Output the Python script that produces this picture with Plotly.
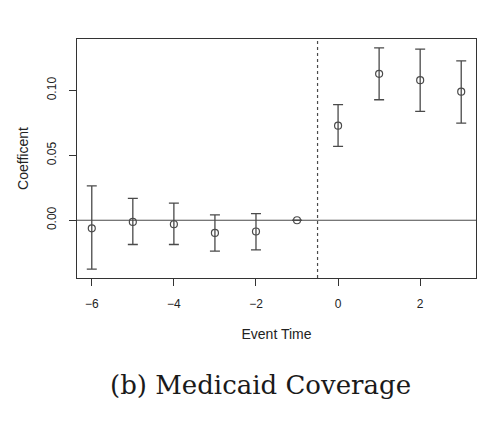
import plotly.graph_objects as go

# event-study coefficients
event_time = [-6, -5, -4, -3, -2, -1, 0, 1, 2, 3]
coef = [-0.0062, -0.0013, -0.0031, -0.0098, -0.0087, 0.0, 0.0728, 0.1128, 0.1079, 0.0990]
ci_hi = [0.0264, 0.0169, 0.0131, 0.0041, 0.0051, 0.0, 0.0890, 0.1328, 0.1318, 0.1228]
ci_lo = [-0.0377, -0.0187, -0.0187, -0.0238, -0.0228, 0.0, 0.0569, 0.0928, 0.0838, 0.0748]
x_ticks = [-6, -4, -2, 0, 2]
y_ticks = [0.0, 0.05, 0.10]
y_tick_text = ["0.00", "0.05", "0.10"]

INK = "#4a4a4a"
SANS = "Liberation Sans, Arial, sans-serif"

err_plus = [h - c for h, c in zip(ci_hi, coef)]
err_minus = [c - l for c, l in zip(coef, ci_lo)]

fig = go.Figure(
    go.Scatter(
        x=event_time,
        y=coef,
        mode="markers",
        marker=dict(symbol="circle-open", size=7, color=INK, line=dict(width=1.2, color=INK)),
        error_y=dict(
            type="data",
            symmetric=False,
            array=err_plus,
            arrayminus=err_minus,
            color=INK,
            thickness=1.3,
            width=5,
        ),
        showlegend=False,
    )
)

# reference lines: y = 0 and the treatment boundary
fig.add_hline(y=0, line=dict(color=INK, width=1.2))
fig.add_vline(x=-0.5, line=dict(color=INK, width=1.2, dash="dot"))

fig.add_annotation(
    text="(b) Medicaid Coverage",
    xref="paper",
    yref="paper",
    x=0.459,
    y=-0.446,
    xanchor="center",
    yanchor="middle",
    showarrow=False,
    font=dict(family="DejaVu Serif, serif", size=26, color="#1a1a1a"),
)

axis_common = dict(
    showline=True,
    mirror=True,
    linecolor="#333",
    linewidth=1.2,
    showgrid=False,
    zeroline=False,
    automargin=False,
    ticks="outside",
    ticklen=7,
    tickcolor="#333",
    tickfont=dict(family=SANS, size=12, color="#222"),
)

# page body has an 8px margin, so offsets are trimmed accordingly
fig.update_layout(
    width=498,
    height=428,
    margin=dict(l=69, r=30, t=31, b=158),
    paper_bgcolor="white",
    plot_bgcolor="white",
    xaxis=dict(
        range=[-6.36, 3.36],
        tickvals=x_ticks,
        ticktext=["\u22126", "\u22124", "\u22122", "0", "2"],
        ticklabelstandoff=7,
        title=dict(text="Event Time", font=dict(family=SANS, size=14, color="#222"), standoff=19),
        **axis_common,
    ),
    yaxis=dict(
        range=[-0.0445, 0.1396],
        tickvals=y_ticks,
        ticktext=y_tick_text,
        tickangle=-90,
        ticklabelstandoff=8,
        title=dict(text="Coefficent", font=dict(family=SANS, size=14, color="#222"), standoff=13),
        **axis_common,
    ),
)

fig.write_html("out.html")
